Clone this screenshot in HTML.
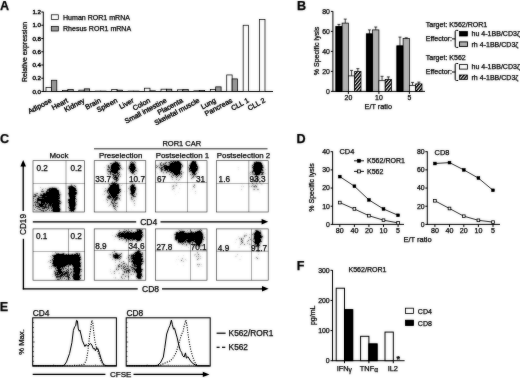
<!DOCTYPE html>
<html><head><meta charset="utf-8"><title>Figure</title>
<style>html,body{margin:0;padding:0;background:#fff}svg{display:block}text{font-family:"Liberation Sans",sans-serif;fill:#111;stroke:#111;stroke-width:0.25px}</style>
</head><body>
<svg width="520" height="378" viewBox="0 0 520 378">
<defs><filter id="soft" x="0" y="0" width="520" height="378" filterUnits="userSpaceOnUse" color-interpolation-filters="sRGB"><feGaussianBlur in="SourceGraphic" stdDeviation="0.8" result="b"/><feComposite in="SourceGraphic" in2="b" operator="arithmetic" k1="0" k2="0.72" k3="0.4" k4="-0.12"/></filter></defs>
<g filter="url(#soft)">
<rect width="520" height="378" fill="#fff"/>
<text x="0" y="9.7" font-size="12.6" text-anchor="start" font-weight="bold">A</text>
<text x="296.9" y="9.6" font-size="12.6" text-anchor="start" font-weight="bold">B</text>
<text x="0" y="142.9" font-size="12.6" text-anchor="start" font-weight="bold">C</text>
<text x="296.6" y="142.8" font-size="12.6" text-anchor="start" font-weight="bold">D</text>
<text x="-0.3" y="311.3" font-size="12.6" text-anchor="start" font-weight="bold">E</text>
<text x="296.8" y="270.3" font-size="12.6" text-anchor="start" font-weight="bold">F</text>
<line x1="43.3" y1="11.8" x2="43.3" y2="91.9" stroke="#000" stroke-width="0.95"/>
<line x1="42.9" y1="91.5" x2="273" y2="91.5" stroke="#000" stroke-width="0.95"/>
<line x1="41.3" y1="91.5" x2="43.3" y2="91.5" stroke="#000" stroke-width="0.95"/>
<text x="41.0" y="93.7" font-size="6.2" text-anchor="end" style="stroke-width:0.4px">0.0</text>
<line x1="41.3" y1="78.25" x2="43.3" y2="78.25" stroke="#000" stroke-width="0.95"/>
<text x="41.0" y="80.45" font-size="6.2" text-anchor="end" style="stroke-width:0.4px">0.2</text>
<line x1="41.3" y1="65.0" x2="43.3" y2="65.0" stroke="#000" stroke-width="0.95"/>
<text x="41.0" y="67.2" font-size="6.2" text-anchor="end" style="stroke-width:0.4px">0.4</text>
<line x1="41.3" y1="51.75" x2="43.3" y2="51.75" stroke="#000" stroke-width="0.95"/>
<text x="41.0" y="53.95" font-size="6.2" text-anchor="end" style="stroke-width:0.4px">0.6</text>
<line x1="41.3" y1="38.5" x2="43.3" y2="38.5" stroke="#000" stroke-width="0.95"/>
<text x="41.0" y="40.7" font-size="6.2" text-anchor="end" style="stroke-width:0.4px">0.8</text>
<line x1="41.3" y1="25.25" x2="43.3" y2="25.25" stroke="#000" stroke-width="0.95"/>
<text x="41.0" y="27.45" font-size="6.2" text-anchor="end" style="stroke-width:0.4px">1.0</text>
<line x1="41.3" y1="12.0" x2="43.3" y2="12.0" stroke="#000" stroke-width="0.95"/>
<text x="41.0" y="14.2" font-size="6.2" text-anchor="end" style="stroke-width:0.4px">1.2</text>
<text x="27.3" y="52" font-size="6.9" text-anchor="middle" transform="rotate(-90 27.3 52)">Relative expression</text>
<rect x="46.00" y="87.53" width="5.40" height="3.97" fill="#fff" stroke="#000" stroke-width="0.7"/>
<rect x="51.40" y="80.24" width="5.40" height="11.26" fill="#a4a4a4" stroke="#000" stroke-width="0.7"/>
<text x="52.2" y="102.0" font-size="7.15" text-anchor="end" transform="rotate(-28 52.2 102.0)" style="stroke-width:0.35px">Adipose</text>
<rect x="62.43" y="90.51" width="5.40" height="0.99" fill="#fff" stroke="#000" stroke-width="0.7"/>
<rect x="67.83" y="89.51" width="5.40" height="1.99" fill="#a4a4a4" stroke="#000" stroke-width="0.7"/>
<text x="68.6" y="102.0" font-size="7.15" text-anchor="end" transform="rotate(-28 68.6 102.0)" style="stroke-width:0.35px">Heart</text>
<rect x="78.86" y="90.17" width="5.40" height="1.32" fill="#fff" stroke="#000" stroke-width="0.7"/>
<rect x="84.26" y="88.85" width="5.40" height="2.65" fill="#a4a4a4" stroke="#000" stroke-width="0.7"/>
<text x="85.1" y="102.0" font-size="7.15" text-anchor="end" transform="rotate(-28 85.1 102.0)" style="stroke-width:0.35px">Kidney</text>
<rect x="95.29" y="91.10" width="5.40" height="0.40" fill="#fff" stroke="#000" stroke-width="0.7"/>
<rect x="100.69" y="91.10" width="5.40" height="0.40" fill="#a4a4a4" stroke="#000" stroke-width="0.7"/>
<text x="101.5" y="102.0" font-size="7.15" text-anchor="end" transform="rotate(-28 101.5 102.0)" style="stroke-width:0.35px">Brain</text>
<rect x="111.72" y="89.51" width="5.40" height="1.99" fill="#fff" stroke="#000" stroke-width="0.7"/>
<rect x="117.12" y="90.17" width="5.40" height="1.32" fill="#a4a4a4" stroke="#000" stroke-width="0.7"/>
<text x="117.9" y="102.0" font-size="7.15" text-anchor="end" transform="rotate(-28 117.9 102.0)" style="stroke-width:0.35px">Spleen</text>
<rect x="128.15" y="91.10" width="5.40" height="0.40" fill="#fff" stroke="#000" stroke-width="0.7"/>
<rect x="133.55" y="91.10" width="5.40" height="0.40" fill="#a4a4a4" stroke="#000" stroke-width="0.7"/>
<text x="134.4" y="102.0" font-size="7.15" text-anchor="end" transform="rotate(-28 134.4 102.0)" style="stroke-width:0.35px">Liver</text>
<rect x="144.58" y="88.19" width="5.40" height="3.31" fill="#fff" stroke="#000" stroke-width="0.7"/>
<rect x="149.98" y="90.84" width="5.40" height="0.66" fill="#a4a4a4" stroke="#000" stroke-width="0.7"/>
<text x="150.8" y="102.0" font-size="7.15" text-anchor="end" transform="rotate(-28 150.8 102.0)" style="stroke-width:0.35px">Colon</text>
<rect x="161.01" y="89.18" width="5.40" height="2.32" fill="#fff" stroke="#000" stroke-width="0.7"/>
<rect x="166.41" y="89.18" width="5.40" height="2.32" fill="#a4a4a4" stroke="#000" stroke-width="0.7"/>
<text x="167.2" y="102.0" font-size="7.15" text-anchor="end" transform="rotate(-28 167.2 102.0)" style="stroke-width:0.35px">Small intestine</text>
<rect x="177.44" y="89.84" width="5.40" height="1.66" fill="#fff" stroke="#000" stroke-width="0.7"/>
<rect x="182.84" y="89.51" width="5.40" height="1.99" fill="#a4a4a4" stroke="#000" stroke-width="0.7"/>
<text x="183.6" y="102.0" font-size="7.15" text-anchor="end" transform="rotate(-28 183.6 102.0)" style="stroke-width:0.35px">Placenta</text>
<rect x="193.87" y="90.84" width="5.40" height="0.66" fill="#fff" stroke="#000" stroke-width="0.7"/>
<rect x="199.27" y="90.51" width="5.40" height="0.99" fill="#a4a4a4" stroke="#000" stroke-width="0.7"/>
<text x="200.1" y="102.0" font-size="7.15" text-anchor="end" transform="rotate(-28 200.1 102.0)" style="stroke-width:0.35px">Skeletal muscle</text>
<rect x="210.30" y="89.51" width="5.40" height="1.99" fill="#fff" stroke="#000" stroke-width="0.7"/>
<rect x="215.70" y="86.86" width="5.40" height="4.64" fill="#a4a4a4" stroke="#000" stroke-width="0.7"/>
<text x="216.5" y="102.0" font-size="7.15" text-anchor="end" transform="rotate(-28 216.5 102.0)" style="stroke-width:0.35px">Lung</text>
<rect x="226.73" y="74.94" width="5.40" height="16.56" fill="#fff" stroke="#000" stroke-width="0.7"/>
<rect x="232.13" y="78.91" width="5.40" height="12.59" fill="#a4a4a4" stroke="#000" stroke-width="0.7"/>
<text x="232.9" y="102.0" font-size="7.15" text-anchor="end" transform="rotate(-28 232.9 102.0)" style="stroke-width:0.35px">Pancreas</text>
<rect x="243.16" y="25.25" width="5.40" height="66.25" fill="#fff" stroke="#000" stroke-width="0.7"/>
<text x="249.4" y="102.0" font-size="7.15" text-anchor="end" transform="rotate(-28 249.4 102.0)" style="stroke-width:0.35px">CLL 1</text>
<rect x="259.59" y="19.62" width="5.40" height="71.88" fill="#fff" stroke="#000" stroke-width="0.7"/>
<text x="265.8" y="102.0" font-size="7.15" text-anchor="end" transform="rotate(-28 265.8 102.0)" style="stroke-width:0.35px">CLL 2</text>
<rect x="51.30" y="14.80" width="7.00" height="4.60" fill="#fff" stroke="#000" stroke-width="0.7"/>
<text x="63" y="19.6" font-size="7.05" text-anchor="start">Human ROR1 mRNA</text>
<rect x="51.30" y="26.40" width="7.00" height="4.60" fill="#a4a4a4" stroke="#000" stroke-width="0.7"/>
<text x="63" y="31.2" font-size="7.05" text-anchor="start">Rhesus ROR1 mRNA</text>
<defs><pattern id="hatch" width="2.4" height="2.4" patternUnits="userSpaceOnUse" patternTransform="rotate(-50)"><rect width="2.4" height="2.4" fill="#fff"/><rect width="2.4" height="1.3" fill="#000"/></pattern></defs>
<line x1="332.9" y1="11.2" x2="332.9" y2="91.80000000000001" stroke="#000" stroke-width="0.95"/>
<line x1="332.5" y1="91.4" x2="425" y2="91.4" stroke="#000" stroke-width="0.95"/>
<line x1="330.9" y1="91.4" x2="332.9" y2="91.4" stroke="#000" stroke-width="0.95"/>
<text x="329.9" y="93.80000000000001" font-size="6.9" text-anchor="end">0</text>
<line x1="330.9" y1="71.4" x2="332.9" y2="71.4" stroke="#000" stroke-width="0.95"/>
<text x="329.9" y="73.80000000000001" font-size="6.9" text-anchor="end">20</text>
<line x1="330.9" y1="51.400000000000006" x2="332.9" y2="51.400000000000006" stroke="#000" stroke-width="0.95"/>
<text x="329.9" y="53.800000000000004" font-size="6.9" text-anchor="end">40</text>
<line x1="330.9" y1="31.400000000000006" x2="332.9" y2="31.400000000000006" stroke="#000" stroke-width="0.95"/>
<text x="329.9" y="33.800000000000004" font-size="6.9" text-anchor="end">60</text>
<line x1="330.9" y1="11.400000000000006" x2="332.9" y2="11.400000000000006" stroke="#000" stroke-width="0.95"/>
<text x="329.9" y="13.800000000000006" font-size="6.9" text-anchor="end">80</text>
<text x="318.6" y="51" font-size="7.05" text-anchor="middle" transform="rotate(-90 318.6 51)">% Specific lysis</text>
<line x1="338.95" y1="24.400000000000006" x2="338.95" y2="26.400000000000006" stroke="#000" stroke-width="0.7"/>
<line x1="337.45" y1="24.400000000000006" x2="340.45" y2="24.400000000000006" stroke="#000" stroke-width="0.7"/>
<rect x="335.80" y="26.40" width="6.30" height="65.00" fill="#000" stroke="#000" stroke-width="0.7"/>
<line x1="345.25" y1="19.10000000000001" x2="345.25" y2="23.10000000000001" stroke="#000" stroke-width="0.7"/>
<line x1="343.75" y1="19.10000000000001" x2="346.75" y2="19.10000000000001" stroke="#000" stroke-width="0.7"/>
<rect x="342.10" y="23.10" width="6.30" height="68.30" fill="#bababa" stroke="#000" stroke-width="0.7"/>
<line x1="351.55" y1="70.4" x2="351.55" y2="75.9" stroke="#000" stroke-width="0.7"/>
<line x1="350.05" y1="70.4" x2="353.05" y2="70.4" stroke="#000" stroke-width="0.7"/>
<rect x="348.40" y="75.90" width="6.30" height="15.50" fill="#fff" stroke="#000" stroke-width="0.7"/>
<line x1="357.85" y1="68.60000000000001" x2="357.85" y2="71.60000000000001" stroke="#000" stroke-width="0.7"/>
<line x1="356.35" y1="68.60000000000001" x2="359.35" y2="68.60000000000001" stroke="#000" stroke-width="0.7"/>
<rect x="354.70" y="71.60" width="6.30" height="19.80" fill="url(#hatch)" stroke="#000" stroke-width="0.7"/>
<line x1="348.4" y1="91.4" x2="348.4" y2="93.9" stroke="#000" stroke-width="0.95"/>
<text x="348.4" y="100.2" font-size="6.9" text-anchor="middle">20</text>
<line x1="369.45" y1="29.900000000000006" x2="369.45" y2="33.800000000000004" stroke="#000" stroke-width="0.7"/>
<line x1="367.95" y1="29.900000000000006" x2="370.95" y2="29.900000000000006" stroke="#000" stroke-width="0.7"/>
<rect x="366.30" y="33.80" width="6.30" height="57.60" fill="#000" stroke="#000" stroke-width="0.7"/>
<line x1="375.75" y1="27.0" x2="375.75" y2="29.900000000000006" stroke="#000" stroke-width="0.7"/>
<line x1="374.25" y1="27.0" x2="377.25" y2="27.0" stroke="#000" stroke-width="0.7"/>
<rect x="372.60" y="29.90" width="6.30" height="61.50" fill="#bababa" stroke="#000" stroke-width="0.7"/>
<line x1="382.05" y1="76.30000000000001" x2="382.05" y2="80.7" stroke="#000" stroke-width="0.7"/>
<line x1="380.55" y1="76.30000000000001" x2="383.55" y2="76.30000000000001" stroke="#000" stroke-width="0.7"/>
<rect x="378.90" y="80.70" width="6.30" height="10.70" fill="#fff" stroke="#000" stroke-width="0.7"/>
<line x1="388.35" y1="76.9" x2="388.35" y2="79.4" stroke="#000" stroke-width="0.7"/>
<line x1="386.85" y1="76.9" x2="389.85" y2="76.9" stroke="#000" stroke-width="0.7"/>
<rect x="385.20" y="79.40" width="6.30" height="12.00" fill="url(#hatch)" stroke="#000" stroke-width="0.7"/>
<line x1="378.9" y1="91.4" x2="378.9" y2="93.9" stroke="#000" stroke-width="0.95"/>
<text x="378.9" y="100.2" font-size="6.9" text-anchor="middle">10</text>
<line x1="399.95" y1="37.10000000000001" x2="399.95" y2="45.800000000000004" stroke="#000" stroke-width="0.7"/>
<line x1="398.45" y1="37.10000000000001" x2="401.45" y2="37.10000000000001" stroke="#000" stroke-width="0.7"/>
<rect x="396.80" y="45.80" width="6.30" height="45.60" fill="#000" stroke="#000" stroke-width="0.7"/>
<line x1="406.25" y1="37.800000000000004" x2="406.25" y2="38.60000000000001" stroke="#000" stroke-width="0.7"/>
<line x1="404.75" y1="37.800000000000004" x2="407.75" y2="37.800000000000004" stroke="#000" stroke-width="0.7"/>
<rect x="403.10" y="38.60" width="6.30" height="52.80" fill="#bababa" stroke="#000" stroke-width="0.7"/>
<line x1="412.55" y1="82.4" x2="412.55" y2="85.4" stroke="#000" stroke-width="0.7"/>
<line x1="411.05" y1="82.4" x2="414.05" y2="82.4" stroke="#000" stroke-width="0.7"/>
<rect x="409.40" y="85.40" width="6.30" height="6.00" fill="#fff" stroke="#000" stroke-width="0.7"/>
<line x1="418.85" y1="82.10000000000001" x2="418.85" y2="83.9" stroke="#000" stroke-width="0.7"/>
<line x1="417.35" y1="82.10000000000001" x2="420.35" y2="82.10000000000001" stroke="#000" stroke-width="0.7"/>
<rect x="415.70" y="83.90" width="6.30" height="7.50" fill="url(#hatch)" stroke="#000" stroke-width="0.7"/>
<line x1="409.4" y1="91.4" x2="409.4" y2="93.9" stroke="#000" stroke-width="0.95"/>
<text x="409.4" y="100.2" font-size="6.9" text-anchor="middle">5</text>
<text x="378.3" y="109.2" font-size="7.3" text-anchor="middle">E/T ratio</text>
<text x="425.8" y="27" font-size="7.05" text-anchor="start">Target: K562/ROR1</text>
<text x="425.8" y="40.6" font-size="7.05" text-anchor="start">Effector:</text>
<text x="425.8" y="60.2" font-size="7.05" text-anchor="start">Target: K562</text>
<text x="425.8" y="73.8" font-size="7.05" text-anchor="start">Effector:</text>
<path d="M458.2 30.4 L456.4 30.4 Q455.2 30.4 455.2 31.599999999999998 L455.2 46.199999999999996 Q455.2 47.4 456.4 47.4 L458.2 47.4 M451.9 38.9 L455.2 38.9" fill="none" stroke="#000" stroke-width="1.0"/>
<path d="M458.2 63.5 L456.4 63.5 Q455.2 63.5 455.2 64.7 L455.2 79.3 Q455.2 80.5 456.4 80.5 L458.2 80.5 M451.9 72.0 L455.2 72.0" fill="none" stroke="#000" stroke-width="1.0"/>
<rect x="459.50" y="31.50" width="8.00" height="4.50" fill="#000" stroke="#000" stroke-width="0.7"/>
<rect x="459.50" y="41.90" width="8.00" height="4.50" fill="#bababa" stroke="#000" stroke-width="0.9"/>
<rect x="459.50" y="64.60" width="8.00" height="4.50" fill="#fff" stroke="#000" stroke-width="0.8"/>
<rect x="459.50" y="75.00" width="8.00" height="4.50" fill="url(#hatch)" stroke="#000" stroke-width="0.7"/>
<text x="471.5" y="36.2" font-size="7.05" text-anchor="start">hu 4-1BB/CD3ζ</text>
<text x="471.5" y="46.9" font-size="7.05" text-anchor="start">rh 4-1BB/CD3ζ</text>
<text x="471.5" y="69.1" font-size="7.05" text-anchor="start">hu 4-1BB/CD3ζ</text>
<text x="471.5" y="79.7" font-size="7.05" text-anchor="start">rh 4-1BB/CD3ζ</text>
<defs><filter id="bl" x="-50%" y="-50%" width="200%" height="200%"><feGaussianBlur stdDeviation="1.6"/></filter><filter id="bl2" x="-50%" y="-50%" width="200%" height="200%"><feGaussianBlur stdDeviation="0.9"/></filter><marker id="ah" viewBox="0 0 10 10" refX="2" refY="5" markerWidth="5" markerHeight="5" orient="auto"><path d="M0 0L10 5L0 10z"/></marker></defs>
<text x="58.9" y="158.2" font-size="7.9" text-anchor="middle">Mock</text>
<text x="120.6" y="158.2" font-size="7.9" text-anchor="middle">Preselection</text>
<text x="182.4" y="158.2" font-size="7.9" text-anchor="middle">Postselection 1</text>
<text x="243.5" y="158.2" font-size="7.9" text-anchor="middle">Postselection 2</text>
<text x="181.8" y="145.8" font-size="7.5" text-anchor="middle">ROR1 CAR</text>
<line x1="94" y1="148.8" x2="267.5" y2="148.8" stroke="#000" stroke-width="0.8"/>
<line x1="23.2" y1="211" x2="23.2" y2="165.5" stroke="#000" stroke-width="1.3"/>
<path d="M20.4 166.6L23.2 160L26 166.6z"/>
<text x="26.3" y="224.5" font-size="8.3" text-anchor="middle" transform="rotate(-90 26.3 224.5)">CD19</text>
<line x1="23.4" y1="238.8" x2="23.4" y2="289.4" stroke="#000" stroke-width="1.3"/>
<line x1="22.8" y1="288.8" x2="137.7" y2="288.8" stroke="#000" stroke-width="1.3"/>
<text x="142.0" y="291.6" font-size="8.5" text-anchor="start">CD8</text>
<line x1="162" y1="288.8" x2="263" y2="288.8" stroke="#000" stroke-width="1.3"/>
<path d="M262 286L268.6 288.8L262 291.6z"/>
<line x1="32.8" y1="221.8" x2="136.2" y2="221.8" stroke="#000" stroke-width="1.3"/>
<text x="140.2" y="224.7" font-size="8.5" text-anchor="start">CD4</text>
<line x1="160.5" y1="221.8" x2="263" y2="221.8" stroke="#000" stroke-width="1.3"/>
<path d="M261.6 219.1L268.2 221.8L261.6 224.5z"/>
<defs><filter id="st" x="0" y="0" width="1" height="1" color-interpolation-filters="sRGB"><feGaussianBlur in="SourceGraphic" stdDeviation="0.8" result="d"/><feTurbulence type="fractalNoise" baseFrequency="1.618 1.414" numOctaves="1" seed="5" result="n"/><feColorMatrix in="n" type="matrix" values="0 0 0 0 0 0 0 0 0 0 0 0 0 0 0 2.8 0 0 0 -0.9" result="na"/><feComposite in="d" in2="na" operator="arithmetic" k1="0" k2="1.4" k3="1" k4="-1"/><feComponentTransfer result="sh"><feFuncA type="linear" slope="4"/></feComponentTransfer><feGaussianBlur stdDeviation="0.8" result="bb"/><feComposite in="sh" in2="bb" operator="arithmetic" k1="0" k2="0.35" k3="0.8" k4="0"/></filter></defs>
<defs><radialGradient id="rg"><stop offset="0" stop-color="#000" stop-opacity="1"/><stop offset="0.3" stop-color="#000" stop-opacity="0.78"/><stop offset="0.6" stop-color="#000" stop-opacity="0.32"/><stop offset="0.8" stop-color="#000" stop-opacity="0.1"/><stop offset="1" stop-color="#000" stop-opacity="0"/></radialGradient></defs>
<g><clipPath id="cp00"><rect x="33.0" y="160.7" width="51.6" height="51.3"/></clipPath>
<rect x="33.0" y="160.7" width="51.6" height="51.3" fill="#fff"/>
<g clip-path="url(#cp00)"><g filter="url(#st)"><rect x="29.0" y="156.7" width="59.6" height="59.3" fill="none"/>
<ellipse cx="53.5" cy="194.7" rx="6" ry="7.5"/>
<rect x="53.0" y="194.7" width="6.4" height="19" rx="2"/>
<ellipse cx="43.0" cy="202.7" rx="21" ry="19" fill="url(#rg)" opacity="0.62"/>
<ellipse cx="49.0" cy="198.7" rx="10" ry="13" fill="url(#rg)" opacity="0.6"/>
<ellipse cx="72.3" cy="192.2" rx="4" ry="6.5"/>
<ellipse cx="72.3" cy="201.7" rx="2.8" ry="10"/>
<ellipse cx="72.3" cy="204.7" rx="5" ry="12" fill="url(#rg)" opacity="0.8"/>
</g></g>
<rect x="33.0" y="160.7" width="51.6" height="51.3" fill="none" stroke="#333" stroke-width="0.6"/>
<line x1="66.0" y1="160.7" x2="66.0" y2="212.0" stroke="#000" stroke-width="0.5" opacity="0.7"/>
<line x1="33.0" y1="183.7" x2="84.6" y2="183.7" stroke="#000" stroke-width="0.5" opacity="0.7"/>
<text x="36.5" y="170.5" font-size="8.2" text-anchor="start">0.2</text>
<text x="70.5" y="170.5" font-size="8.2" text-anchor="start">0.2</text>
</g>
<g><clipPath id="cp10"><rect x="94.2" y="160.7" width="51.6" height="51.3"/></clipPath>
<rect x="94.2" y="160.7" width="51.6" height="51.3" fill="#fff"/>
<g clip-path="url(#cp10)"><g filter="url(#st)"><rect x="90.2" y="156.7" width="59.6" height="59.3" fill="none"/>
<ellipse cx="115.2" cy="167.3" rx="4.0" ry="5.3" transform="rotate(25 115.2 167.3)"/>
<ellipse cx="113.2" cy="168.7" rx="11" ry="10" fill="url(#rg)" opacity="0.65"/>
<ellipse cx="116.7" cy="177.7" rx="4.5" ry="8" fill="url(#rg)" opacity="0.7"/>
<ellipse cx="114.2" cy="189.2" rx="5.0" ry="6.2"/>
<ellipse cx="113.7" cy="193.7" rx="12" ry="16" fill="url(#rg)" opacity="0.7"/>
<ellipse cx="115.2" cy="203.7" rx="5" ry="11" fill="url(#rg)" opacity="0.4"/>
<ellipse cx="132.7" cy="167.5" rx="2.4" ry="4.8"/>
<ellipse cx="132.7" cy="168.7" rx="5.5" ry="10" fill="url(#rg)" opacity="0.6"/>
<ellipse cx="132.9" cy="188.0" rx="2.4" ry="3.3"/>
<ellipse cx="132.9" cy="190.7" rx="5" ry="11" fill="url(#rg)" opacity="0.8"/>
<ellipse cx="132.9" cy="200.7" rx="3" ry="10" fill="url(#rg)" opacity="0.3"/>
</g></g>
<rect x="94.2" y="160.7" width="51.6" height="51.3" fill="none" stroke="#333" stroke-width="0.6"/>
<line x1="126.7" y1="160.7" x2="126.7" y2="212.0" stroke="#000" stroke-width="0.5" opacity="0.7"/>
<line x1="94.2" y1="183.7" x2="145.8" y2="183.7" stroke="#000" stroke-width="0.5" opacity="0.7"/>
<text x="95.2" y="182.0" font-size="8.2" text-anchor="start">33.7</text>
<text x="129.0" y="182.0" font-size="8.2" text-anchor="start">10.7</text>
</g>
<g><clipPath id="cp20"><rect x="155.4" y="160.7" width="51.6" height="51.3"/></clipPath>
<rect x="155.4" y="160.7" width="51.6" height="51.3" fill="#fff"/>
<g clip-path="url(#cp20)"><g filter="url(#st)"><rect x="151.4" y="156.7" width="59.6" height="59.3" fill="none"/>
<ellipse cx="176.0" cy="167.2" rx="5.8" ry="6.3" transform="rotate(20 176.0 167.2)"/>
<ellipse cx="167.4" cy="167.7" rx="18" ry="8.5" fill="url(#rg)" opacity="0.65"/>
<ellipse cx="176.4" cy="172.7" rx="9" ry="10" fill="url(#rg)" opacity="0.6"/>
<ellipse cx="175.4" cy="186.7" rx="6" ry="10" fill="url(#rg)" opacity="0.15"/>
<ellipse cx="193.6" cy="167.0" rx="3.4" ry="6.2"/>
<ellipse cx="193.7" cy="170.7" rx="6" ry="13" fill="url(#rg)" opacity="0.7"/>
<ellipse cx="193.9" cy="186.7" rx="3" ry="12" fill="url(#rg)" opacity="0.2"/>
</g></g>
<rect x="155.4" y="160.7" width="51.6" height="51.3" fill="none" stroke="#333" stroke-width="0.6"/>
<line x1="187.60000000000002" y1="160.7" x2="187.60000000000002" y2="212.0" stroke="#000" stroke-width="0.5" opacity="0.7"/>
<line x1="155.4" y1="182.7" x2="207.0" y2="182.7" stroke="#000" stroke-width="0.5" opacity="0.7"/>
<text x="156.9" y="181.7" font-size="8.2" text-anchor="start">67</text>
<text x="195.9" y="181.7" font-size="8.2" text-anchor="start">31</text>
</g>
<g><clipPath id="cp30"><rect x="216.6" y="160.7" width="51.6" height="51.3"/></clipPath>
<rect x="216.6" y="160.7" width="51.6" height="51.3" fill="#fff"/>
<g clip-path="url(#cp30)"><g filter="url(#st)"><rect x="212.6" y="156.7" width="59.6" height="59.3" fill="none"/>
<ellipse cx="257.7" cy="167.7" rx="4.8" ry="6.2"/>
<ellipse cx="257.6" cy="170.7" rx="9" ry="13" fill="url(#rg)" opacity="0.8"/>
<ellipse cx="255.6" cy="184.7" rx="8" ry="10" fill="url(#rg)" opacity="0.3"/>
<ellipse cx="241.1" cy="168.7" rx="3.5" ry="5" fill="url(#rg)" opacity="0.12"/>
<ellipse cx="242.6" cy="188.7" rx="5" ry="7" fill="url(#rg)" opacity="0.08"/>
</g></g>
<rect x="216.6" y="160.7" width="51.6" height="51.3" fill="none" stroke="#333" stroke-width="0.6"/>
<line x1="248.8" y1="160.7" x2="248.8" y2="212.0" stroke="#000" stroke-width="0.5" opacity="0.7"/>
<line x1="216.6" y1="183.7" x2="268.2" y2="183.7" stroke="#000" stroke-width="0.5" opacity="0.7"/>
<text x="218.6" y="182.0" font-size="8.2" text-anchor="start">1.6</text>
<text x="249.6" y="182.0" font-size="8.2" text-anchor="start">93.3</text>
</g>
<g><clipPath id="cp01"><rect x="33.0" y="228.9" width="51.6" height="51.3"/></clipPath>
<rect x="33.0" y="228.9" width="51.6" height="51.3" fill="#fff"/>
<g clip-path="url(#cp01)"><g filter="url(#st)"><rect x="29.0" y="224.9" width="59.6" height="59.3" fill="none"/>
<rect x="53.5" y="253.9" width="12" height="12.5" rx="3"/>
<rect x="63.0" y="254.4" width="13" height="10" rx="2"/>
<rect x="74.2" y="253.7" width="6" height="28" rx="2"/>
<ellipse cx="59.0" cy="271.9" rx="7.5" ry="17" fill="url(#rg)" opacity="0.7"/>
<ellipse cx="68.0" cy="274.9" rx="10" ry="18" fill="url(#rg)" opacity="0.55"/>
<ellipse cx="55.0" cy="261.9" rx="8" ry="12" fill="url(#rg)" opacity="0.5"/>
</g></g>
<rect x="33.0" y="228.9" width="51.6" height="51.3" fill="none" stroke="#333" stroke-width="0.6"/>
<line x1="68.5" y1="228.9" x2="68.5" y2="280.2" stroke="#000" stroke-width="0.5" opacity="0.7"/>
<line x1="33.0" y1="251.70000000000002" x2="84.6" y2="251.70000000000002" stroke="#000" stroke-width="0.5" opacity="0.7"/>
<text x="36.0" y="238.7" font-size="8.2" text-anchor="start">0.1</text>
<text x="70.5" y="238.7" font-size="8.2" text-anchor="start">0.2</text>
</g>
<g><clipPath id="cp11"><rect x="94.2" y="228.9" width="51.6" height="51.3"/></clipPath>
<rect x="94.2" y="228.9" width="51.6" height="51.3" fill="#fff"/>
<g clip-path="url(#cp11)"><g filter="url(#st)"><rect x="90.2" y="224.9" width="59.6" height="59.3" fill="none"/>
<ellipse cx="139.2" cy="234.9" rx="2.6" ry="5.8" transform="rotate(15 139.2 234.9)"/>
<ellipse cx="137.2" cy="235.9" rx="7" ry="9" fill="url(#rg)" opacity="0.9"/>
<ellipse cx="126.2" cy="235.4" rx="15" ry="7.5" fill="url(#rg)" opacity="0.95"/>
<ellipse cx="131.2" cy="235.9" rx="8" ry="6" fill="url(#rg)" opacity="0.7"/>
<ellipse cx="120.7" cy="234.9" rx="4" ry="3.5" fill="url(#rg)" opacity="0.6"/>
<ellipse cx="138.8" cy="257.9" rx="2.8" ry="7.5"/>
<ellipse cx="137.2" cy="259.9" rx="8" ry="13" fill="url(#rg)"/>
<ellipse cx="139.2" cy="270.9" rx="2.2" ry="9" opacity="0.8"/>
<ellipse cx="139.2" cy="272.9" rx="4" ry="11" fill="url(#rg)" opacity="0.8"/>
<ellipse cx="132.2" cy="256.9" rx="6" ry="6" fill="url(#rg)" opacity="0.6"/>
<ellipse cx="116.7" cy="255.4" rx="8" ry="6" fill="url(#rg)" opacity="0.8"/>
<ellipse cx="125.2" cy="269.9" rx="18" ry="14" fill="url(#rg)" opacity="0.42"/>
</g></g>
<rect x="94.2" y="228.9" width="51.6" height="51.3" fill="none" stroke="#333" stroke-width="0.6"/>
<line x1="128.7" y1="228.9" x2="128.7" y2="280.2" stroke="#000" stroke-width="0.5" opacity="0.7"/>
<line x1="94.2" y1="250.4" x2="145.8" y2="250.4" stroke="#000" stroke-width="0.5" opacity="0.7"/>
<text x="95.2" y="248.9" font-size="8.2" text-anchor="start">8.9</text>
<text x="128.5" y="248.9" font-size="8.2" text-anchor="start">34.6</text>
</g>
<g><clipPath id="cp21"><rect x="155.4" y="228.9" width="51.6" height="51.3"/></clipPath>
<rect x="155.4" y="228.9" width="51.6" height="51.3" fill="#fff"/>
<g clip-path="url(#cp21)"><g filter="url(#st)"><rect x="151.4" y="224.9" width="59.6" height="59.3" fill="none"/>
<ellipse cx="181.2" cy="236.4" rx="6" ry="5.2" transform="rotate(15 181.2 236.4)"/>
<ellipse cx="190.4" cy="235.9" rx="5" ry="3.2"/>
<ellipse cx="199.0" cy="237.9" rx="3.7" ry="8.5"/>
<ellipse cx="189.4" cy="237.9" rx="19" ry="11" fill="url(#rg)" opacity="0.7"/>
<ellipse cx="181.4" cy="258.9" rx="6" ry="9" fill="url(#rg)" opacity="0.2"/>
<ellipse cx="198.4" cy="258.9" rx="5" ry="12" fill="url(#rg)" opacity="0.28"/>
</g></g>
<rect x="155.4" y="228.9" width="51.6" height="51.3" fill="none" stroke="#333" stroke-width="0.6"/>
<line x1="190.4" y1="228.9" x2="190.4" y2="280.2" stroke="#000" stroke-width="0.5" opacity="0.7"/>
<line x1="155.4" y1="250.9" x2="207.0" y2="250.9" stroke="#000" stroke-width="0.5" opacity="0.7"/>
<text x="156.4" y="250.4" font-size="8.2" text-anchor="start">27.8</text>
<text x="190.7" y="250.4" font-size="8.2" text-anchor="start">70.1</text>
</g>
<g><clipPath id="cp31"><rect x="216.6" y="228.9" width="51.6" height="51.3"/></clipPath>
<rect x="216.6" y="228.9" width="51.6" height="51.3" fill="#fff"/>
<g clip-path="url(#cp31)"><g filter="url(#st)"><rect x="212.6" y="224.9" width="59.6" height="59.3" fill="none"/>
<ellipse cx="257.8" cy="235.4" rx="3.8" ry="5.5"/>
<ellipse cx="257.8" cy="239.9" rx="2.6" ry="5"/>
<ellipse cx="257.6" cy="240.9" rx="7" ry="13" fill="url(#rg)" opacity="0.6"/>
<ellipse cx="245.6" cy="240.9" rx="13" ry="10" fill="url(#rg)" opacity="0.25"/>
<ellipse cx="257.6" cy="256.9" rx="2.5" ry="9" fill="url(#rg)" opacity="0.25"/>
<ellipse cx="238.1" cy="256.9" rx="4" ry="5" fill="url(#rg)" opacity="0.15"/>
</g></g>
<rect x="216.6" y="228.9" width="51.6" height="51.3" fill="none" stroke="#333" stroke-width="0.6"/>
<line x1="251.6" y1="228.9" x2="251.6" y2="280.2" stroke="#000" stroke-width="0.5" opacity="0.7"/>
<line x1="216.6" y1="251.20000000000002" x2="268.2" y2="251.20000000000002" stroke="#000" stroke-width="0.5" opacity="0.7"/>
<text x="217.8" y="250.7" font-size="8.2" text-anchor="start">4.9</text>
<text x="251.1" y="250.7" font-size="8.2" text-anchor="start">91.7</text>
</g>
<line x1="332.6" y1="151.29999999999998" x2="332.6" y2="224.8" stroke="#000" stroke-width="0.95"/>
<line x1="332.20000000000005" y1="224.4" x2="404" y2="224.4" stroke="#000" stroke-width="0.95"/>
<line x1="330.6" y1="224.4" x2="332.6" y2="224.4" stroke="#000" stroke-width="0.95"/>
<text x="329.90000000000003" y="226.8" font-size="6.9" text-anchor="end">0</text>
<line x1="330.6" y1="206.23" x2="332.6" y2="206.23" stroke="#000" stroke-width="0.95"/>
<text x="329.90000000000003" y="208.63" font-size="6.9" text-anchor="end">10</text>
<line x1="330.6" y1="188.05" x2="332.6" y2="188.05" stroke="#000" stroke-width="0.95"/>
<text x="329.90000000000003" y="190.45" font-size="6.9" text-anchor="end">20</text>
<line x1="330.6" y1="169.88" x2="332.6" y2="169.88" stroke="#000" stroke-width="0.95"/>
<text x="329.90000000000003" y="172.28" font-size="6.9" text-anchor="end">30</text>
<line x1="330.6" y1="151.7" x2="332.6" y2="151.7" stroke="#000" stroke-width="0.95"/>
<text x="329.90000000000003" y="154.1" font-size="6.9" text-anchor="end">40</text>
<line x1="339.8" y1="224.4" x2="339.8" y2="226.9" stroke="#000" stroke-width="0.95"/>
<text x="339.8" y="233.3" font-size="7.1" text-anchor="middle">80</text>
<line x1="354.4" y1="224.4" x2="354.4" y2="226.9" stroke="#000" stroke-width="0.95"/>
<text x="354.4" y="233.3" font-size="7.1" text-anchor="middle">40</text>
<line x1="368.9" y1="224.4" x2="368.9" y2="226.9" stroke="#000" stroke-width="0.95"/>
<text x="368.9" y="233.3" font-size="7.1" text-anchor="middle">20</text>
<line x1="383.5" y1="224.4" x2="383.5" y2="226.9" stroke="#000" stroke-width="0.95"/>
<text x="383.5" y="233.3" font-size="7.1" text-anchor="middle">10</text>
<line x1="398.1" y1="224.4" x2="398.1" y2="226.9" stroke="#000" stroke-width="0.95"/>
<text x="398.1" y="233.3" font-size="7.1" text-anchor="middle">5</text>
<polyline points="339.8,176.6 354.4,186.2 368.9,199.9 383.5,209.0 398.1,215.3" fill="none" stroke="#000" stroke-width="0.8"/>
<rect x="338.40" y="175.20" width="2.80" height="2.80" fill="#000" stroke="#000" stroke-width="0.5"/>
<rect x="353.00" y="184.83" width="2.80" height="2.80" fill="#000" stroke="#000" stroke-width="0.5"/>
<rect x="367.50" y="198.46" width="2.80" height="2.80" fill="#000" stroke="#000" stroke-width="0.5"/>
<rect x="382.10" y="207.55" width="2.80" height="2.80" fill="#000" stroke="#000" stroke-width="0.5"/>
<rect x="396.70" y="213.91" width="2.80" height="2.80" fill="#000" stroke="#000" stroke-width="0.5"/>
<polyline points="339.8,202.6 354.4,209.0 368.9,215.7 383.5,220.2 398.1,222.9" fill="none" stroke="#000" stroke-width="0.8"/>
<rect x="338.45" y="201.24" width="2.70" height="2.70" fill="#fff" stroke="#000" stroke-width="0.75"/>
<rect x="353.05" y="207.60" width="2.70" height="2.70" fill="#fff" stroke="#000" stroke-width="0.75"/>
<rect x="367.55" y="214.33" width="2.70" height="2.70" fill="#fff" stroke="#000" stroke-width="0.75"/>
<rect x="382.15" y="218.87" width="2.70" height="2.70" fill="#fff" stroke="#000" stroke-width="0.75"/>
<rect x="396.75" y="221.60" width="2.70" height="2.70" fill="#fff" stroke="#000" stroke-width="0.75"/>
<line x1="427.3" y1="151.29999999999998" x2="427.3" y2="224.8" stroke="#000" stroke-width="0.95"/>
<line x1="426.90000000000003" y1="224.4" x2="500" y2="224.4" stroke="#000" stroke-width="0.95"/>
<line x1="425.3" y1="224.4" x2="427.3" y2="224.4" stroke="#000" stroke-width="0.95"/>
<text x="424.6" y="226.8" font-size="6.9" text-anchor="end">0</text>
<line x1="425.3" y1="206.22" x2="427.3" y2="206.22" stroke="#000" stroke-width="0.95"/>
<text x="424.6" y="208.62" font-size="6.9" text-anchor="end">20</text>
<line x1="425.3" y1="188.05" x2="427.3" y2="188.05" stroke="#000" stroke-width="0.95"/>
<text x="424.6" y="190.45" font-size="6.9" text-anchor="end">40</text>
<line x1="425.3" y1="169.87" x2="427.3" y2="169.87" stroke="#000" stroke-width="0.95"/>
<text x="424.6" y="172.27" font-size="6.9" text-anchor="end">60</text>
<line x1="425.3" y1="151.7" x2="427.3" y2="151.7" stroke="#000" stroke-width="0.95"/>
<text x="424.6" y="154.1" font-size="6.9" text-anchor="end">80</text>
<line x1="434.9" y1="224.4" x2="434.9" y2="226.9" stroke="#000" stroke-width="0.95"/>
<text x="434.9" y="233.3" font-size="7.1" text-anchor="middle">80</text>
<line x1="449.5" y1="224.4" x2="449.5" y2="226.9" stroke="#000" stroke-width="0.95"/>
<text x="449.5" y="233.3" font-size="7.1" text-anchor="middle">40</text>
<line x1="463.8" y1="224.4" x2="463.8" y2="226.9" stroke="#000" stroke-width="0.95"/>
<text x="463.8" y="233.3" font-size="7.1" text-anchor="middle">20</text>
<line x1="478.4" y1="224.4" x2="478.4" y2="226.9" stroke="#000" stroke-width="0.95"/>
<text x="478.4" y="233.3" font-size="7.1" text-anchor="middle">10</text>
<line x1="493" y1="224.4" x2="493" y2="226.9" stroke="#000" stroke-width="0.95"/>
<text x="493" y="233.3" font-size="7.1" text-anchor="middle">5</text>
<polyline points="434.9,163.5 449.5,162.6 463.8,169.9 478.4,178.1 493.0,190.3" fill="none" stroke="#000" stroke-width="0.8"/>
<rect x="433.50" y="162.11" width="2.80" height="2.80" fill="#000" stroke="#000" stroke-width="0.5"/>
<rect x="448.10" y="161.20" width="2.80" height="2.80" fill="#000" stroke="#000" stroke-width="0.5"/>
<rect x="462.40" y="168.47" width="2.80" height="2.80" fill="#000" stroke="#000" stroke-width="0.5"/>
<rect x="477.00" y="176.65" width="2.80" height="2.80" fill="#000" stroke="#000" stroke-width="0.5"/>
<rect x="491.60" y="188.92" width="2.80" height="2.80" fill="#000" stroke="#000" stroke-width="0.5"/>
<polyline points="434.9,200.8 449.5,208.5 463.8,216.2 478.4,220.3 493.0,222.1" fill="none" stroke="#000" stroke-width="0.8"/>
<rect x="433.55" y="199.42" width="2.70" height="2.70" fill="#fff" stroke="#000" stroke-width="0.75"/>
<rect x="448.15" y="207.15" width="2.70" height="2.70" fill="#fff" stroke="#000" stroke-width="0.75"/>
<rect x="462.45" y="214.87" width="2.70" height="2.70" fill="#fff" stroke="#000" stroke-width="0.75"/>
<rect x="477.05" y="218.96" width="2.70" height="2.70" fill="#fff" stroke="#000" stroke-width="0.75"/>
<rect x="491.65" y="220.78" width="2.70" height="2.70" fill="#fff" stroke="#000" stroke-width="0.75"/>
<text x="314.3" y="187.5" font-size="7.05" text-anchor="middle" transform="rotate(-90 314.3 187.5)">% Specific lysis</text>
<text x="339.5" y="154" font-size="7.45" text-anchor="start">CD4</text>
<text x="434.6" y="154.6" font-size="7.45" text-anchor="start">CD8</text>
<text x="417.5" y="241.7" font-size="7.5" text-anchor="middle">E/T ratio</text>
<line x1="354" y1="160.8" x2="364" y2="160.8" stroke="#000" stroke-width="0.9"/>
<rect x="357.40" y="159.20" width="3.20" height="3.20" fill="#000" stroke="#000" stroke-width="0.5"/>
<line x1="354" y1="171.4" x2="364" y2="171.4" stroke="#000" stroke-width="0.9"/>
<rect x="357.50" y="169.90" width="3.00" height="3.00" fill="#fff" stroke="#000" stroke-width="0.8"/>
<text x="367" y="163.2" font-size="7.05" text-anchor="start">K562/ROR1</text>
<text x="367" y="173.8" font-size="7.05" text-anchor="start">K562</text>
<rect x="32.70" y="317.80" width="83.70" height="48.30" fill="#fff" stroke="#000" stroke-width="1.0"/>
<line x1="32.7" y1="361.3" x2="34.0" y2="361.3" stroke="#000" stroke-width="0.6"/>
<line x1="32.7" y1="356.4" x2="34.0" y2="356.4" stroke="#000" stroke-width="0.6"/>
<line x1="32.7" y1="351.6" x2="34.0" y2="351.6" stroke="#000" stroke-width="0.6"/>
<line x1="32.7" y1="346.8" x2="34.0" y2="346.8" stroke="#000" stroke-width="0.6"/>
<line x1="32.7" y1="342.0" x2="34.7" y2="342.0" stroke="#000" stroke-width="0.6"/>
<line x1="32.7" y1="337.1" x2="34.0" y2="337.1" stroke="#000" stroke-width="0.6"/>
<line x1="32.7" y1="332.3" x2="34.0" y2="332.3" stroke="#000" stroke-width="0.6"/>
<line x1="32.7" y1="327.5" x2="34.0" y2="327.5" stroke="#000" stroke-width="0.6"/>
<line x1="32.7" y1="322.6" x2="34.0" y2="322.6" stroke="#000" stroke-width="0.6"/>
<line x1="34.8" y1="366.1" x2="34.8" y2="365.20000000000005" stroke="#000" stroke-width="0.5"/>
<line x1="36.9" y1="366.1" x2="36.9" y2="365.20000000000005" stroke="#000" stroke-width="0.5"/>
<line x1="39.0" y1="366.1" x2="39.0" y2="365.20000000000005" stroke="#000" stroke-width="0.5"/>
<line x1="41.1" y1="366.1" x2="41.1" y2="365.20000000000005" stroke="#000" stroke-width="0.5"/>
<line x1="43.2" y1="366.1" x2="43.2" y2="365.20000000000005" stroke="#000" stroke-width="0.5"/>
<line x1="45.3" y1="366.1" x2="45.3" y2="365.20000000000005" stroke="#000" stroke-width="0.5"/>
<line x1="47.3" y1="366.1" x2="47.3" y2="365.20000000000005" stroke="#000" stroke-width="0.5"/>
<line x1="49.4" y1="366.1" x2="49.4" y2="365.20000000000005" stroke="#000" stroke-width="0.5"/>
<line x1="51.5" y1="366.1" x2="51.5" y2="365.20000000000005" stroke="#000" stroke-width="0.5"/>
<line x1="53.6" y1="366.1" x2="53.6" y2="364.5" stroke="#000" stroke-width="0.5"/>
<line x1="55.7" y1="366.1" x2="55.7" y2="365.20000000000005" stroke="#000" stroke-width="0.5"/>
<line x1="57.8" y1="366.1" x2="57.8" y2="365.20000000000005" stroke="#000" stroke-width="0.5"/>
<line x1="59.9" y1="366.1" x2="59.9" y2="365.20000000000005" stroke="#000" stroke-width="0.5"/>
<line x1="62.0" y1="366.1" x2="62.0" y2="365.20000000000005" stroke="#000" stroke-width="0.5"/>
<line x1="64.1" y1="366.1" x2="64.1" y2="365.20000000000005" stroke="#000" stroke-width="0.5"/>
<line x1="66.2" y1="366.1" x2="66.2" y2="365.20000000000005" stroke="#000" stroke-width="0.5"/>
<line x1="68.3" y1="366.1" x2="68.3" y2="365.20000000000005" stroke="#000" stroke-width="0.5"/>
<line x1="70.4" y1="366.1" x2="70.4" y2="365.20000000000005" stroke="#000" stroke-width="0.5"/>
<line x1="72.5" y1="366.1" x2="72.5" y2="365.20000000000005" stroke="#000" stroke-width="0.5"/>
<line x1="74.6" y1="366.1" x2="74.6" y2="364.5" stroke="#000" stroke-width="0.5"/>
<line x1="76.6" y1="366.1" x2="76.6" y2="365.20000000000005" stroke="#000" stroke-width="0.5"/>
<line x1="78.7" y1="366.1" x2="78.7" y2="365.20000000000005" stroke="#000" stroke-width="0.5"/>
<line x1="80.8" y1="366.1" x2="80.8" y2="365.20000000000005" stroke="#000" stroke-width="0.5"/>
<line x1="82.9" y1="366.1" x2="82.9" y2="365.20000000000005" stroke="#000" stroke-width="0.5"/>
<line x1="85.0" y1="366.1" x2="85.0" y2="365.20000000000005" stroke="#000" stroke-width="0.5"/>
<line x1="87.1" y1="366.1" x2="87.1" y2="365.20000000000005" stroke="#000" stroke-width="0.5"/>
<line x1="89.2" y1="366.1" x2="89.2" y2="365.20000000000005" stroke="#000" stroke-width="0.5"/>
<line x1="91.3" y1="366.1" x2="91.3" y2="365.20000000000005" stroke="#000" stroke-width="0.5"/>
<line x1="93.4" y1="366.1" x2="93.4" y2="365.20000000000005" stroke="#000" stroke-width="0.5"/>
<line x1="95.5" y1="366.1" x2="95.5" y2="364.5" stroke="#000" stroke-width="0.5"/>
<line x1="97.6" y1="366.1" x2="97.6" y2="365.20000000000005" stroke="#000" stroke-width="0.5"/>
<line x1="99.7" y1="366.1" x2="99.7" y2="365.20000000000005" stroke="#000" stroke-width="0.5"/>
<line x1="101.8" y1="366.1" x2="101.8" y2="365.20000000000005" stroke="#000" stroke-width="0.5"/>
<line x1="103.8" y1="366.1" x2="103.8" y2="365.20000000000005" stroke="#000" stroke-width="0.5"/>
<line x1="105.9" y1="366.1" x2="105.9" y2="365.20000000000005" stroke="#000" stroke-width="0.5"/>
<line x1="108.0" y1="366.1" x2="108.0" y2="365.20000000000005" stroke="#000" stroke-width="0.5"/>
<line x1="110.1" y1="366.1" x2="110.1" y2="365.20000000000005" stroke="#000" stroke-width="0.5"/>
<line x1="112.2" y1="366.1" x2="112.2" y2="365.20000000000005" stroke="#000" stroke-width="0.5"/>
<line x1="114.3" y1="366.1" x2="114.3" y2="365.20000000000005" stroke="#000" stroke-width="0.5"/>
<polyline points="33.2,365.7 62,365.7 64.2,365.3 66.5,361.9 69.6,353.4 71.9,342.7 73.4,330.4 74.7,326.6 75.7,325.8 76.5,320.4 77.4,320.9 78.3,328.9 79.3,331.2 79.9,330.1 81.1,335 82.3,340.4 83.9,344.2 84.9,346.5 86.2,344.5 87.5,346.1 89.1,345 90.6,343.5 91.8,345 93.4,348.8 94.6,348.5 95.4,350.7 96.8,347.6 98,348.8 99.5,353.4 101.1,358.8 102.6,362.7 104.4,365.2 107,365.7 116,365.7" fill="none" stroke="#000" stroke-width="1.0" stroke-linejoin="round"/>
<polyline points="33.2,365.7 72,365.7 78,365.3 81.1,365 84.2,364.2 86.5,359.6 88,350.4 89.5,336.6 90.6,328.9 91.8,320.4 92.8,322.7 93.7,332 94.9,341.2 96.1,346.5 97.7,350.4 99.5,356.5 101.1,361.1 103.4,365 106,365.7" fill="none" stroke="#000" stroke-width="1.05" stroke-dasharray="1.1 1.3" stroke-linejoin="round"/>
<rect x="126.20" y="317.80" width="84.00" height="48.30" fill="#fff" stroke="#000" stroke-width="1.0"/>
<line x1="126.2" y1="361.3" x2="127.5" y2="361.3" stroke="#000" stroke-width="0.6"/>
<line x1="126.2" y1="356.4" x2="127.5" y2="356.4" stroke="#000" stroke-width="0.6"/>
<line x1="126.2" y1="351.6" x2="127.5" y2="351.6" stroke="#000" stroke-width="0.6"/>
<line x1="126.2" y1="346.8" x2="127.5" y2="346.8" stroke="#000" stroke-width="0.6"/>
<line x1="126.2" y1="342.0" x2="128.2" y2="342.0" stroke="#000" stroke-width="0.6"/>
<line x1="126.2" y1="337.1" x2="127.5" y2="337.1" stroke="#000" stroke-width="0.6"/>
<line x1="126.2" y1="332.3" x2="127.5" y2="332.3" stroke="#000" stroke-width="0.6"/>
<line x1="126.2" y1="327.5" x2="127.5" y2="327.5" stroke="#000" stroke-width="0.6"/>
<line x1="126.2" y1="322.6" x2="127.5" y2="322.6" stroke="#000" stroke-width="0.6"/>
<line x1="128.3" y1="366.1" x2="128.3" y2="365.20000000000005" stroke="#000" stroke-width="0.5"/>
<line x1="130.4" y1="366.1" x2="130.4" y2="365.20000000000005" stroke="#000" stroke-width="0.5"/>
<line x1="132.5" y1="366.1" x2="132.5" y2="365.20000000000005" stroke="#000" stroke-width="0.5"/>
<line x1="134.6" y1="366.1" x2="134.6" y2="365.20000000000005" stroke="#000" stroke-width="0.5"/>
<line x1="136.7" y1="366.1" x2="136.7" y2="365.20000000000005" stroke="#000" stroke-width="0.5"/>
<line x1="138.8" y1="366.1" x2="138.8" y2="365.20000000000005" stroke="#000" stroke-width="0.5"/>
<line x1="140.9" y1="366.1" x2="140.9" y2="365.20000000000005" stroke="#000" stroke-width="0.5"/>
<line x1="143.0" y1="366.1" x2="143.0" y2="365.20000000000005" stroke="#000" stroke-width="0.5"/>
<line x1="145.1" y1="366.1" x2="145.1" y2="365.20000000000005" stroke="#000" stroke-width="0.5"/>
<line x1="147.2" y1="366.1" x2="147.2" y2="364.5" stroke="#000" stroke-width="0.5"/>
<line x1="149.3" y1="366.1" x2="149.3" y2="365.20000000000005" stroke="#000" stroke-width="0.5"/>
<line x1="151.4" y1="366.1" x2="151.4" y2="365.20000000000005" stroke="#000" stroke-width="0.5"/>
<line x1="153.5" y1="366.1" x2="153.5" y2="365.20000000000005" stroke="#000" stroke-width="0.5"/>
<line x1="155.6" y1="366.1" x2="155.6" y2="365.20000000000005" stroke="#000" stroke-width="0.5"/>
<line x1="157.7" y1="366.1" x2="157.7" y2="365.20000000000005" stroke="#000" stroke-width="0.5"/>
<line x1="159.8" y1="366.1" x2="159.8" y2="365.20000000000005" stroke="#000" stroke-width="0.5"/>
<line x1="161.9" y1="366.1" x2="161.9" y2="365.20000000000005" stroke="#000" stroke-width="0.5"/>
<line x1="164.0" y1="366.1" x2="164.0" y2="365.20000000000005" stroke="#000" stroke-width="0.5"/>
<line x1="166.1" y1="366.1" x2="166.1" y2="365.20000000000005" stroke="#000" stroke-width="0.5"/>
<line x1="168.2" y1="366.1" x2="168.2" y2="364.5" stroke="#000" stroke-width="0.5"/>
<line x1="170.3" y1="366.1" x2="170.3" y2="365.20000000000005" stroke="#000" stroke-width="0.5"/>
<line x1="172.4" y1="366.1" x2="172.4" y2="365.20000000000005" stroke="#000" stroke-width="0.5"/>
<line x1="174.5" y1="366.1" x2="174.5" y2="365.20000000000005" stroke="#000" stroke-width="0.5"/>
<line x1="176.6" y1="366.1" x2="176.6" y2="365.20000000000005" stroke="#000" stroke-width="0.5"/>
<line x1="178.7" y1="366.1" x2="178.7" y2="365.20000000000005" stroke="#000" stroke-width="0.5"/>
<line x1="180.8" y1="366.1" x2="180.8" y2="365.20000000000005" stroke="#000" stroke-width="0.5"/>
<line x1="182.9" y1="366.1" x2="182.9" y2="365.20000000000005" stroke="#000" stroke-width="0.5"/>
<line x1="185.0" y1="366.1" x2="185.0" y2="365.20000000000005" stroke="#000" stroke-width="0.5"/>
<line x1="187.1" y1="366.1" x2="187.1" y2="365.20000000000005" stroke="#000" stroke-width="0.5"/>
<line x1="189.2" y1="366.1" x2="189.2" y2="364.5" stroke="#000" stroke-width="0.5"/>
<line x1="191.3" y1="366.1" x2="191.3" y2="365.20000000000005" stroke="#000" stroke-width="0.5"/>
<line x1="193.4" y1="366.1" x2="193.4" y2="365.20000000000005" stroke="#000" stroke-width="0.5"/>
<line x1="195.5" y1="366.1" x2="195.5" y2="365.20000000000005" stroke="#000" stroke-width="0.5"/>
<line x1="197.6" y1="366.1" x2="197.6" y2="365.20000000000005" stroke="#000" stroke-width="0.5"/>
<line x1="199.7" y1="366.1" x2="199.7" y2="365.20000000000005" stroke="#000" stroke-width="0.5"/>
<line x1="201.8" y1="366.1" x2="201.8" y2="365.20000000000005" stroke="#000" stroke-width="0.5"/>
<line x1="203.9" y1="366.1" x2="203.9" y2="365.20000000000005" stroke="#000" stroke-width="0.5"/>
<line x1="206.0" y1="366.1" x2="206.0" y2="365.20000000000005" stroke="#000" stroke-width="0.5"/>
<line x1="208.1" y1="366.1" x2="208.1" y2="365.20000000000005" stroke="#000" stroke-width="0.5"/>
<polyline points="126.7,365.7 155,365.7 157.5,365.3 160.4,362.9 163.3,357.1 164.8,347.5 166.7,334 168.7,328.2 170,325.3 171.4,320.1 172.3,324.3 173.5,329.1 174.5,328.2 175.8,333 177.2,337.8 178.7,344.6 180.3,350.4 181.6,352.3 182.6,355.6 184.1,357.1 185.5,352.9 186.4,358.1 188,356.7 189.9,360 192.2,362.9 195.1,365 197.5,365.7 209.7,365.7" fill="none" stroke="#000" stroke-width="1.0" stroke-linejoin="round"/>
<polyline points="126.7,365.7 158,365.7 160.4,365.2 165.2,362.9 170,361 172.9,358.1 175.8,353.3 177.7,347.5 179.7,340.7 181.6,334 183,332 184.1,326.2 185.8,320.1 186.8,324.3 188,334 189.3,342.6 190.7,349.4 192.2,355.2 194.2,361 196.1,364.5 198.4,365.7" fill="none" stroke="#000" stroke-width="1.05" stroke-dasharray="1.1 1.3" stroke-linejoin="round"/>
<text x="24.2" y="342" font-size="7.7" text-anchor="middle" transform="rotate(-90 24.2 342)">% Max.</text>
<text x="32.7" y="315.7" font-size="8.4" text-anchor="start">CD4</text>
<text x="126.4" y="315.7" font-size="8.4" text-anchor="start">CD8</text>
<line x1="32.7" y1="374.4" x2="105.4" y2="374.4" stroke="#000" stroke-width="1.25"/>
<text x="110" y="377.2" font-size="8.0" text-anchor="start">CFSE</text>
<line x1="133.5" y1="374.4" x2="204" y2="374.4" stroke="#000" stroke-width="1.25"/>
<path d="M202.8 371.8L209.5 374.4L202.8 377z"/>
<line x1="216.6" y1="333.2" x2="225.6" y2="333.2" stroke="#000" stroke-width="1.2"/>
<line x1="216.6" y1="347.3" x2="219.6" y2="347.3" stroke="#000" stroke-width="1.2"/>
<line x1="222" y1="347.3" x2="225.3" y2="347.3" stroke="#000" stroke-width="1.2"/>
<text x="228.6" y="335.7" font-size="8.3" text-anchor="start">K562/ROR1</text>
<text x="228.6" y="349.7" font-size="8.3" text-anchor="start">K562</text>
<line x1="332.5" y1="270" x2="332.5" y2="361.09999999999997" stroke="#000" stroke-width="0.95"/>
<line x1="332.1" y1="360.7" x2="404.6" y2="360.7" stroke="#000" stroke-width="0.95"/>
<line x1="330.5" y1="360.7" x2="332.5" y2="360.7" stroke="#000" stroke-width="0.95"/>
<text x="329.7" y="363.1" font-size="6.9" text-anchor="end">0</text>
<line x1="330.5" y1="330.57" x2="332.5" y2="330.57" stroke="#000" stroke-width="0.95"/>
<text x="329.7" y="332.97" font-size="6.9" text-anchor="end">100</text>
<line x1="330.5" y1="300.44" x2="332.5" y2="300.44" stroke="#000" stroke-width="0.95"/>
<text x="329.7" y="302.84" font-size="6.9" text-anchor="end">200</text>
<line x1="330.5" y1="270.31" x2="332.5" y2="270.31" stroke="#000" stroke-width="0.95"/>
<text x="329.7" y="272.71" font-size="6.9" text-anchor="end">300</text>
<rect x="336.20" y="288.21" width="8.30" height="72.49" fill="#fff" stroke="#000" stroke-width="0.95"/>
<rect x="344.50" y="309.63" width="8.30" height="51.07" fill="#000" stroke="#000" stroke-width="0.95"/>
<line x1="344.5" y1="360.7" x2="344.5" y2="363.2" stroke="#000" stroke-width="0.95"/>
<rect x="360.60" y="336.29" width="8.30" height="24.41" fill="#fff" stroke="#000" stroke-width="0.95"/>
<rect x="368.90" y="343.83" width="8.30" height="16.87" fill="#000" stroke="#000" stroke-width="0.95"/>
<line x1="368.90000000000003" y1="360.7" x2="368.90000000000003" y2="363.2" stroke="#000" stroke-width="0.95"/>
<rect x="385.00" y="332.08" width="8.30" height="28.62" fill="#fff" stroke="#000" stroke-width="0.95"/>
<line x1="393.3" y1="360.7" x2="393.3" y2="363.2" stroke="#000" stroke-width="0.95"/>
<text x="398.3" y="361.5" font-size="9" text-anchor="middle" font-weight="bold">*</text>
<text x="344.3" y="371" font-size="7.4" text-anchor="middle">IFN<tspan font-size="6.6" dy="0.6">γ</tspan></text>
<text x="368.9" y="371" font-size="7.4" text-anchor="middle">TNF<tspan font-size="6.6" dy="0.6">α</tspan></text>
<text x="392.8" y="371" font-size="7.4" text-anchor="middle">IL2</text>
<text x="367.5" y="272" font-size="7.05" text-anchor="middle">K562/ROR1</text>
<text x="315.2" y="315.3" font-size="7.05" text-anchor="middle" transform="rotate(-90 315.2 315.3)">pg/mL</text>
<rect x="405.50" y="308.20" width="8.00" height="5.20" fill="#fff" stroke="#000" stroke-width="0.8"/>
<rect x="405.50" y="320.20" width="8.00" height="5.20" fill="#000" stroke="#000" stroke-width="0.8"/>
<text x="417.8" y="313.6" font-size="7.05" text-anchor="start">CD4</text>
<text x="417.8" y="325.7" font-size="7.05" text-anchor="start">CD8</text>
</g>
</svg>
</body></html>
